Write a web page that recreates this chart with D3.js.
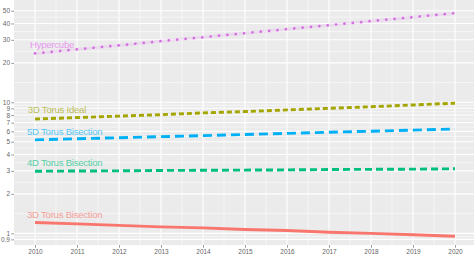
<!DOCTYPE html>
<html>
<head>
<meta charset="utf-8">
<script src="https://cdn.jsdelivr.net/npm/d3@7"></script>
<style>
  body { margin: 0; background: #fff; }
  svg { display: block; font-family: "Liberation Sans", Arial, sans-serif; }
</style>
</head>
<body>
<script>
// values, one per year
const years = [2010, 2011, 2012, 2013, 2014, 2015, 2016, 2017, 2018, 2019, 2020];
const hypercube = [23.6, 25.4, 27.2, 29.3, 31.4, 33.7, 36.2, 38.8, 41.7, 44.7, 48.0];
const torus3dIdeal = [7.45, 7.65, 7.85, 8.05, 8.3, 8.5, 8.75, 9.0, 9.25, 9.55, 9.85];
const torus5dBisection = [5.17, 5.27, 5.37, 5.47, 5.57, 5.68, 5.79, 5.91, 6.02, 6.14, 6.26];
const torus4dBisection = [2.98, 2.99, 3.0, 3.02, 3.03, 3.04, 3.05, 3.07, 3.08, 3.09, 3.11];
const torus3dBisection = [1.21, 1.18, 1.15, 1.12, 1.1, 1.07, 1.05, 1.02, 1.0, 0.975, 0.95];

const seriesNames = ["Hypercube", "3D Torus Ideal", "5D Torus Bisection", "4D Torus Bisection", "3D Torus Bisection"];
const seriesValues = [hypercube, torus3dIdeal, torus5dBisection, torus4dBisection, torus3dBisection];
const seriesColors = ["#E76BF3", "#A3A500", "#00B0F6", "#00BF7D", "#F8766D"];
const seriesDash = ["0.1 8.3", "5 3", "9 5", "7 4", null];
// label anchors in data units
const labelX = [2009.88, 2009.83, 2009.81, 2009.81, 2009.81];
const labelY = [26.2, 8.36, 5.68, 3.28, 1.32];

const yTicks = [0.9, 1, 2, 3, 4, 5, 6, 7, 8, 9, 10, 20, 30, 40, 50];
const xTicks = years;

const width = 474, height = 256;
const panel = {left: 14, top: 0, right: 476, bottom: 245};

const svg = d3.select("body").append("svg")
  .attr("width", width)
  .attr("height", height);

const x = d3.scaleLinear().domain([2009.5, 2020.5]).range([panel.left, panel.right]);
const y = d3.scaleLog().domain([Math.pow(10, -0.089), Math.pow(10, 1.781)]).range([panel.bottom, panel.top]);

// panel background
svg.append("rect")
  .attr("x", panel.left).attr("y", panel.top)
  .attr("width", panel.right - panel.left).attr("height", panel.bottom - panel.top)
  .attr("fill", "#EBEBEB");

// minor grid (midpoints in log space / half years)
let yMinor = [];
for (let i = 0; i < yTicks.length - 1; i++) yMinor.push(Math.sqrt(yTicks[i] * yTicks[i + 1]));
let xMinor = [];
for (let i = 0; i < xTicks.length - 1; i++) xMinor.push(xTicks[i] + 0.5);

svg.selectAll(".ymin").data(yMinor).join("line")
  .attr("x1", panel.left).attr("x2", panel.right)
  .attr("y1", d => y(d)).attr("y2", d => y(d))
  .attr("stroke", "#fff").attr("stroke-width", 0.55);
svg.selectAll(".xmin").data(xMinor).join("line")
  .attr("y1", panel.top).attr("y2", panel.bottom)
  .attr("x1", d => x(d)).attr("x2", d => x(d))
  .attr("stroke", "#fff").attr("stroke-width", 0.55);

// major grid
svg.selectAll(".ymaj").data(yTicks).join("line")
  .attr("x1", panel.left).attr("x2", panel.right)
  .attr("y1", d => y(d)).attr("y2", d => y(d))
  .attr("stroke", "#fff").attr("stroke-width", 1.1);
svg.selectAll(".xmaj").data(xTicks).join("line")
  .attr("y1", panel.top).attr("y2", panel.bottom)
  .attr("x1", d => x(d)).attr("x2", d => x(d))
  .attr("stroke", "#fff").attr("stroke-width", 1.1);

// axes
const yAxis = d3.axisLeft(y).tickValues(yTicks).tickFormat(d => String(d)).tickSize(2.7).tickPadding(1.3);
const gy = svg.append("g").attr("transform", `translate(${panel.left},0)`).call(yAxis);
const xAxis = d3.axisBottom(x).tickValues(xTicks).tickFormat(d3.format("d")).tickSize(2.7).tickPadding(1.6);
const gx = svg.append("g").attr("transform", `translate(0,${panel.bottom})`).call(xAxis);
[gx, gy].forEach(g => {
  g.select(".domain").remove();
  g.selectAll(".tick line").attr("stroke", "#555").attr("stroke-width", 0.6);
  g.selectAll(".tick text").attr("fill", "#666").style("font-size", "6.5px")
    .style("font-family", "'Liberation Sans', Arial, sans-serif");
});

// lines
const line = d3.line()
  .x(d => x(d[0]))
  .y(d => y(d[1]));

seriesValues.forEach(function(vals, i) {
  const pts = years.map((yr, j) => [yr, vals[j]]);
  if (i === 0) {
    // faint halo under the dotted line
    svg.append("path")
      .datum(pts)
      .attr("d", line)
      .attr("fill", "none")
      .attr("stroke", seriesColors[i])
      .attr("stroke-opacity", 0.12)
      .attr("stroke-width", 3.2);
  }
  const p = svg.append("path")
    .datum(pts)
    .attr("d", line)
    .attr("fill", "none")
    .attr("stroke", i === 0 ? "#D36FE0" : seriesColors[i])
    .attr("stroke-width", i === 0 ? 2.7 : 2.9);
  if (seriesDash[i]) p.attr("stroke-dasharray", seriesDash[i]);
  if (i === 0) p.attr("stroke-linecap", "round");
});

// labels
svg.selectAll(".lbl").data(seriesNames).join("text")
  .attr("x", (d, i) => x(labelX[i]))
  .attr("y", (d, i) => y(labelY[i]))
  .attr("fill", (d, i) => seriesColors[i])
  .attr("opacity", 0.65)
  .style("font-size", "9.6px")
  .style("letter-spacing", "-0.25px")
  .text(d => d);
</script>
</body>
</html>
